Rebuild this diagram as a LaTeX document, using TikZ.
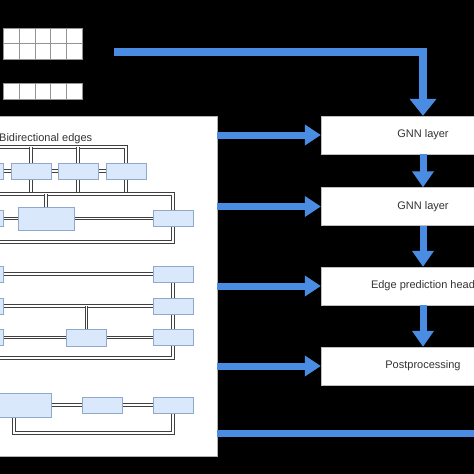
\documentclass[tikz,border=0pt]{standalone}
\usepackage{fontspec}
\setmainfont{Liberation Sans}
\usetikzlibrary{arrows.meta}
\definecolor{bluearrow}{RGB}{74,140,226}
\definecolor{boxfill}{HTML}{DAE8FC}
\definecolor{boxdraw}{HTML}{8FA8CC}
\definecolor{edgecol}{HTML}{404040}
\definecolor{txt}{HTML}{333333}
\pgfdeclarelayer{bg}
\pgfdeclarelayer{edges}
\pgfsetlayers{bg,edges,main}
\begin{document}
\begin{tikzpicture}[x=1pt,y=-1pt,
 ebox/.style={draw=boxdraw, fill=boxfill, line width=0.8pt, inner sep=0, minimum width=40pt, minimum height=16pt},
 bedge/.style={draw=edgecol, double=white, line width=1pt, double distance=1.7pt},
 layer/.style={draw=gray!50, fill=white, inner sep=0, minimum width=204pt, minimum height=38pt, text=txt, font=\fontsize{11}{13}\selectfont},
 cell/.style={draw=gray!85, fill=white, line width=0.8pt, inner sep=0, minimum width=15.7pt, minimum height=15.5pt},
 flow/.style={draw=bluearrow, line width=7pt, -{Triangle[width=21pt,length=16pt]}},
]
\useasboundingbox (0,0) rectangle (474,474);
\clip (0,0) rectangle (474,474);
\begin{pgfonlayer}{bg}
\fill[black] (0,0) rectangle (474,474);
\node[draw=gray!60, fill=white, inner sep=0, minimum width=222pt, minimum height=340pt, anchor=north west] (panel) at (-5,116) {};
\end{pgfonlayer}

% input grids
\foreach \i in {0,...,4} {
  \node[cell, anchor=north west] (ga\i) at ({3.3+15.7*\i},28.3) {};
  \node[cell, anchor=north west, minimum height=16pt] (gb\i) at ({3.3+15.7*\i},43.3) {};
  \node[cell, anchor=north west, minimum height=16pt] (gc\i) at ({3.3+15.7*\i},83.3) {};
}

% label
\node[anchor=west, inner sep=0, text=txt, font=\fontsize{11}{13}\selectfont] (lbl) at (-1,139) {Bidirectional edges};

% group 1 boxes
\node[ebox] (r1a) at (-17,171) {};
\node[ebox] (r1b) at (31,171) {};
\node[ebox] (r1c) at (78,171) {};
\node[ebox] (r1d) at (126,171) {};
\node[ebox, minimum width=56pt, minimum height=23pt] (big1) at (46,218.5) {};
\node[ebox] (r2a) at (-17,218.5) {};
\node[ebox] (r2b) at (173,218.5) {};
\coordinate (tb0) at (-10,147);
\coordinate (tb1) at (31,147);
\coordinate (tb2) at (78,147);
\coordinate (lb0) at (-10,194);
\coordinate (lb1) at (31,194);
\coordinate (lb2) at (78,194);
\coordinate (lb3) at (46,194);
\coordinate (bb0) at (-10,242);

% group 2 boxes
\node[ebox] (ga) at (-17,274) {};
\node[ebox] (gb) at (-17,306) {};
\node[ebox] (gc) at (-17,337.5) {};
\node[ebox] (ra) at (173,274) {};
\node[ebox] (rb) at (173,306) {};
\node[ebox] (rc) at (173,337.5) {};
\node[ebox, minimum height=17pt] (mc) at (86.5,337.5) {};
\coordinate (cb0) at (-10,358);

% group 3 boxes
\node[ebox, minimum width=56pt, minimum height=24pt] (big3) at (23,405) {};
\node[ebox] (m3) at (102,405) {};
\node[ebox] (r3) at (173,405) {};
\coordinate (lp0) at (14,417);
\coordinate (lp1) at (14,433);

\begin{pgfonlayer}{edges}
% group 1
\draw[bedge] (r1a) -- (r1b);
\draw[bedge] (r1b) -- (r1c);
\draw[bedge] (r1c) -- (r1d);
\draw[bedge] (tb0) -| (r1d.north);
\draw[bedge] (tb1) -- (lb1);
\draw[bedge] (tb2) -- (lb2);
\draw[bedge] (r1d.south) -- (r1d |- lb0);
\draw[bedge] (lb0) -| (r2b.north);
\draw[bedge] (lb3) -- (big1.north);
\draw[bedge] (r2a) -- (big1);
\draw[bedge] (big1) -- (r2b);
\draw[bedge] (r2b.south) |- (bb0);
% group 2
\draw[bedge] (ga) -- (ra);
\draw[bedge] (gb) -- (rb);
\draw[bedge] (gc) -- (mc);
\draw[bedge] (mc) -- (rc);
\draw[bedge] (mc.north) -- (mc |- rb);
\draw[bedge] (ra) -- (rb);
\draw[bedge] (rb) -- (rc);
\draw[bedge] (rc.south) |- (cb0);
% group 3
\draw[bedge] (big3) -- (m3);
\draw[bedge] (m3) -- (r3);
\draw[bedge] (lp0) -- (lp1) -| (r3.south);
\end{pgfonlayer}

% right column
\node[layer] (gnn1) at (423,135) {GNN layer};
\node[layer] (gnn2) at (423,206.5) {GNN layer};
\node[layer] (head) at (423,286) {Edge prediction head};
\node[layer] (post) at (423,366) {Postprocessing};

\coordinate (src) at (114,52);
\coordinate (bot) at (480,433);

\draw[draw=bluearrow, line width=8pt, line join=miter, -{Triangle[width=26pt,length=17pt]}] (src) -| (gnn1.north);
\draw[flow] (gnn1.south) -- (gnn2.north);
\draw[flow] (gnn2.south) -- (head.north);
\draw[flow] (head.south) -- (post.north);
\draw[flow, -{Triangle[width=20pt,length=16pt]}] (panel.east |- gnn1) -- (gnn1.west);
\draw[flow, -{Triangle[width=20pt,length=16pt]}] (panel.east |- gnn2) -- (gnn2.west);
\draw[flow, -{Triangle[width=20pt,length=16pt]}] (panel.east |- head) -- (head.west);
\draw[flow, -{Triangle[width=20pt,length=16pt]}] (panel.east |- post) -- (post.west);
\draw[draw=bluearrow, line width=7pt] (panel.east |- bot) -- (bot);
\end{tikzpicture}
\end{document}
